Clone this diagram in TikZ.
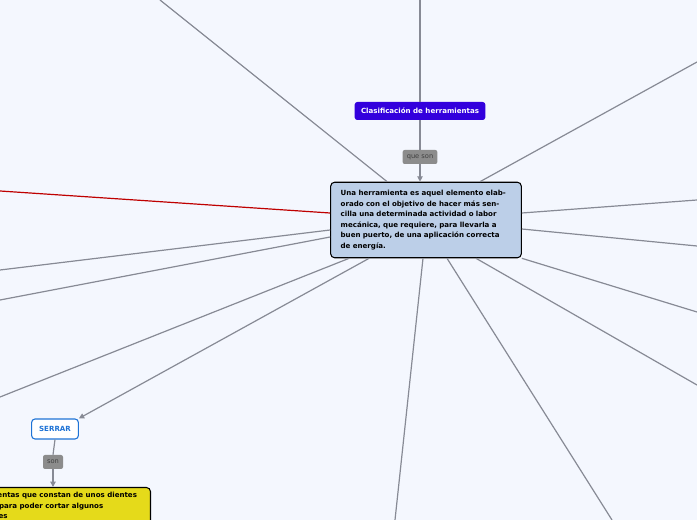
\documentclass[tikz,border=0pt]{standalone}
\usepackage{fontspec}
\setmainfont{DejaVu Sans}
\usetikzlibrary{arrows.meta}
\definecolor{bg}{HTML}{F4F7FE}
\definecolor{ln}{HTML}{878A95}
\definecolor{mainf}{HTML}{BCCFE8}
\definecolor{cls}{HTML}{3300DD}
\definecolor{lbl}{HTML}{8C8C8C}
\definecolor{yel}{HTML}{E5DA1A}
\definecolor{serr}{HTML}{1E73D6}
\tikzset{
  conn/.style={draw=ln, line width=0.9pt},
  arr/.style={conn, -{Triangle[length=4pt,width=4pt]}},
  lblbox/.style={fill=lbl, rounded corners=1.5pt, text=black!75, font=\fontsize{5}{6}\selectfont, minimum width=26pt, minimum height=10.5pt, inner sep=1pt},
}
\begin{document}
\begin{tikzpicture}[x=0.75pt,y=-0.75pt]
\path[fill=bg] (0,0) rectangle (697,520);
\clip (0,0) rectangle (697,520);
\useasboundingbox (0,0) rectangle (697,520);
\node[draw=black, line width=0.8pt, fill=mainf, rounded corners=3pt, minimum width=143pt, minimum height=46.5pt, text width=128pt, align=left, inner xsep=0pt, inner ysep=6pt, font=\bfseries\fontsize{5.3}{7.9}\selectfont] (main) at (426,220) {\hyphenpenalty=10000\exhyphenpenalty=10000 Una herramienta es aquel elemento elaborado con el objetivo de hacer más sencilla una determinada actividad o labor mecánica, que requiere, para llevarla a buen puerto, de una aplicación correcta de energía.};
\node[fill=cls, rounded corners=2pt, text=white, minimum width=98pt, minimum height=13.5pt, inner sep=1pt, font=\bfseries\fontsize{5.3}{6}\selectfont] (clas) at (420,111) {Clasificación de herramientas};
\node[lblbox] (qs) at (420,157) {que son};
\node[draw=serr, line width=0.8pt, fill=white, rounded corners=2.5pt, text=serr, minimum width=35pt, minimum height=15pt, inner sep=1pt, font=\bfseries\fontsize{5.3}{6}\selectfont] (serrar) at (55,429) {SERRAR};
\node[lblbox, minimum width=15pt] (son) at (53,462) {son};
\node[draw=black, line width=0.8pt, fill=yel, rounded corners=3pt, anchor=north east, minimum width=200pt, minimum height=40pt, inner sep=0pt] (yb) at (151,487) {};
\node[anchor=north west, align=left, inner sep=0pt, font=\bfseries\fontsize{5.3}{7.9}\selectfont] (ytxt) at (-35,492) {Herramientas que constan de unos dientes\\afilados para poder cortar algunos\\materiales};
\coordinate (e1) at (160,0); \coordinate (e2) at (420,0); \coordinate (e3) at (697,62);
\coordinate (e4) at (0,191); \coordinate (e5) at (697,200); \coordinate (e6) at (697,246);
\coordinate (e7) at (697,312); \coordinate (e8) at (697,385); \coordinate (e9) at (0,270);
\coordinate (e10) at (0,300); \coordinate (e11) at (0,397); \coordinate (e12) at (395,520);
\coordinate (e13) at (612,520);
\begin{scope}[on background layer/.style={}]
\end{scope}
\draw[conn] (main.north west)++(57,0) -- (e1);
\draw[conn] (clas.north) -- (e2);
\draw[conn] (main.north)++(54,0) -- (e3);
\draw[draw=red!75!black, line width=0.9pt] (main.west)++(0,-7) -- (e4);
\draw[conn] (main.east)++(0,-7) -- (e5);
\draw[conn] (main.east)++(0,9) -- (e6);
\draw[conn] (main.south east) -- (e7);
\draw[conn] (main.south)++(50,0) -- (e8);
\draw[conn] (main.west)++(0,10) -- (e9);
\draw[conn] (main.west)++(0,17) -- (e10);
\draw[conn] (main.south west)++(19,0) -- (e11);
\draw[conn] (main.south)++(-3,0) -- (e12);
\draw[conn] (main.south)++(21,0) -- (e13);
\draw[conn] (clas.south) -- (qs.north);
\draw[arr] (qs.south) -- (main.north -| qs);
\draw[arr] (main.south west)++(39,0) -- (serrar.north east);
\draw[conn] (serrar.south) -- (son.north);
\draw[arr] (son.south) -- (yb.north -| son);
\end{tikzpicture}
\end{document}
